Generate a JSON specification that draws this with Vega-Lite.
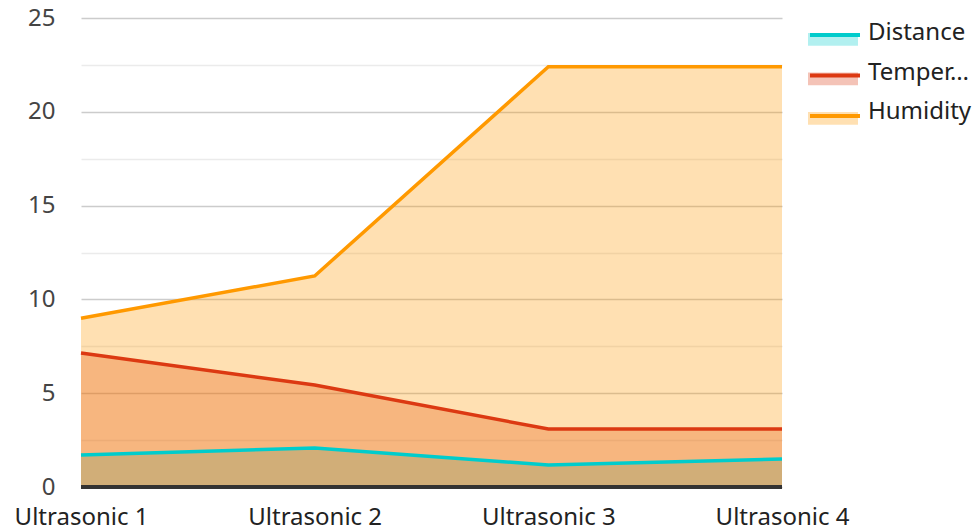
{
  "$schema": "https://vega.github.io/schema/vega-lite/v6.json",
  "width": 701,
  "height": 469,
  "padding": {"left": 14, "top": 6, "right": 0, "bottom": 0},
  "background": "white",
  "config": {"font": "Noto Sans", "view": {"stroke": null}},
  "data": {"values": [
    {"sensor": "Ultrasonic 1", "series": "Distance", "value": 1.71},
    {"sensor": "Ultrasonic 2", "series": "Distance", "value": 2.08},
    {"sensor": "Ultrasonic 3", "series": "Distance", "value": 1.17},
    {"sensor": "Ultrasonic 4", "series": "Distance", "value": 1.49},
    {"sensor": "Ultrasonic 1", "series": "Temperature", "value": 7.14},
    {"sensor": "Ultrasonic 2", "series": "Temperature", "value": 5.44},
    {"sensor": "Ultrasonic 3", "series": "Temperature", "value": 3.09},
    {"sensor": "Ultrasonic 4", "series": "Temperature", "value": 3.09},
    {"sensor": "Ultrasonic 1", "series": "Humidity", "value": 9.0},
    {"sensor": "Ultrasonic 2", "series": "Humidity", "value": 11.25},
    {"sensor": "Ultrasonic 3", "series": "Humidity", "value": 22.4},
    {"sensor": "Ultrasonic 4", "series": "Humidity", "value": 22.4}
  ]},
  "encoding": {
    "x": {
      "field": "sensor", "type": "ordinal",
      "scale": {"type": "point", "padding": 0},
      "axis": {"title": null, "labelAngle": 0, "domain": false, "ticks": false, "labelFontSize": 24, "labelColor": "#222222", "labelPadding": 18, "grid": false}
    }
  },
  "layer": [
    {
      "transform": [{"filter": "datum.series === 'Distance'"}],
      "mark": {"type": "area", "fillOpacity": 0.3, "line": false},
      "encoding": {
        "y": {"field": "value", "type": "quantitative", "stack": null,
          "scale": {"domain": [0, 25], "nice": false},
          "axis": {"title": null, "values": [0, 2.5, 5, 7.5, 10, 12.5, 15, 17.5, 20, 22.5, 25],
            "labelExpr": "datum.value % 5 === 0 ? datum.label : ''",
            "domain": false, "ticks": false, "labelFontSize": 24, "labelColor": "#444444", "labelPadding": 26,
            "gridColor": {"condition": {"test": "datum.value % 5 === 0", "value": "#cccccc"}, "value": "#ebebeb"},
            "gridWidth": 1.3}},
        "fill": {"field": "series", "type": "nominal",
          "scale": {"domain": ["Distance", "Temperature", "Humidity"], "range": ["#00cccc", "#dc3912", "#ff9900"]},
          "legend": {"title": null, "orient": "none", "legendX": 727, "legendY": 0,
            "symbolType": "M-1,0H2.333V0.85H-1Z", "symbolSize": 900, "symbolStrokeWidth": 0, "symbolOpacity": 0.3,
            "labelFontSize": 24, "labelColor": "#222222", "labelLimit": 108, "labelOffset": 30, "rowPadding": 11.5}}
      }
    },
    {
      "transform": [{"filter": "datum.series === 'Temperature'"}],
      "mark": {"type": "area", "fillOpacity": 0.3},
      "encoding": {
        "y": {"field": "value", "type": "quantitative", "stack": null},
        "fill": {"field": "series", "type": "nominal"}
      }
    },
    {
      "transform": [{"filter": "datum.series === 'Humidity'"}],
      "mark": {"type": "area", "fillOpacity": 0.3},
      "encoding": {
        "y": {"field": "value", "type": "quantitative", "stack": null},
        "fill": {"field": "series", "type": "nominal"}
      }
    },
    {
      "mark": {"type": "rule", "color": "#333333", "strokeWidth": 2.5},
      "encoding": {"y": {"datum": 0, "type": "quantitative"}, "x": {"value": 0}, "x2": {"value": "width"}}
    },
    {
      "mark": {"type": "line", "strokeWidth": 3.5},
      "encoding": {
        "y": {"field": "value", "type": "quantitative", "stack": null},
        "stroke": {"field": "series", "type": "nominal",
          "sort": ["Distance", "Temperature", "Humidity"],
          "scale": {"range": ["#00cccc", "#dc3912", "#ff9900"]},
          "legend": {"title": null, "orient": "none", "legendX": 727, "legendY": 0,
            "symbolType": "M-1,0H2.333", "symbolSize": 900, "symbolStrokeWidth": 4,
            "labelFontSize": 24, "labelExpr": "''", "labelLimit": 108, "labelOffset": 30, "rowPadding": 11.5}}
      }
    }
  ]
}
